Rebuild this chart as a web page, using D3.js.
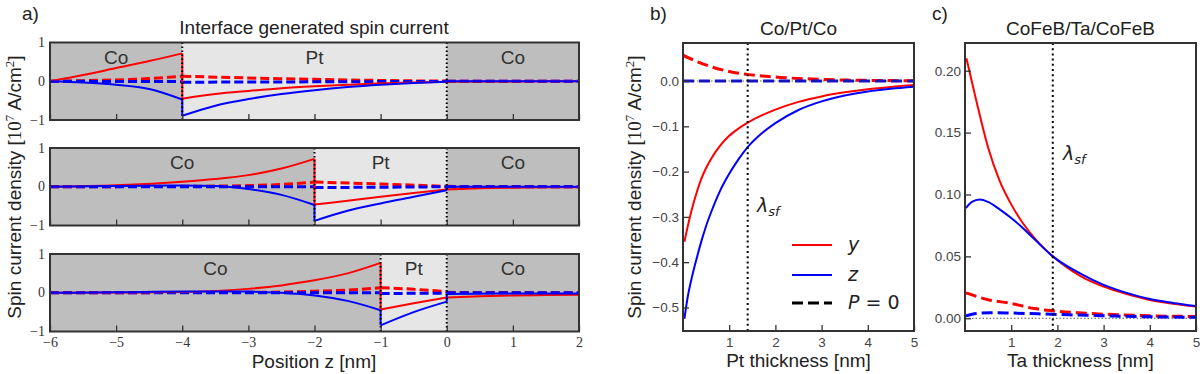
<!DOCTYPE html>
<html><head><meta charset="utf-8">
<script src="https://cdn.jsdelivr.net/npm/d3@7"></script>
<style>body{margin:0;background:#fff}svg{display:block}</style>
</head><body><svg id="c" width="1200" height="374"></svg>
<script>
// ---------------- DATA ----------------
// Panel a: layer boundaries & names for the three stacks
const a1Bounds = [-6, -4, 0, 2];
const a2Bounds = [-6, -2, 0, 2];
const a3Bounds = [-6, -1, 0, 2];
const aLayerNames = ["Co", "Pt", "Co"];
const aXTicks = [-6, -5, -4, -3, -2, -1, 0, 1, 2];
const aYTicks = [1, 0, -1];

// Each series: list of segments (one per layer) of [z, value]
const a1RedY = [
  [[-6,0],[-5.5,0.16],[-5,0.34],[-4.5,0.52],[-4,0.72]],
  [[-4,-0.45],[-3.5,-0.33],[-3,-0.25],[-2.5,-0.18],[-2,-0.13],[-1.5,-0.09],[-1,-0.05],[-0.5,-0.03],[0,-0.01]],
  [[0,-0.01],[1,-0.004],[2,0]]
];
const a1BlueZ = [
  [[-6,0],[-5.5,-0.035],[-5,-0.09],[-4.5,-0.2],[-4,-0.47]],
  [[-4,-0.89],[-3.5,-0.63],[-3,-0.46],[-2.5,-0.33],[-2,-0.23],[-1.5,-0.15],[-1,-0.09],[-0.5,-0.045],[0,-0.015]],
  [[0,0],[1,0],[2,0]]
];
const a1RedP0 = [
  [[-6,0],[-5.5,0.015],[-5,0.035],[-4.5,0.07],[-4,0.13]],
  [[-4,0.13],[-3,0.085],[-2,0.05],[-1,0.02],[0,0.003]],
  [[0,0.003],[2,0]]
];
const a1BlueP0 = [
  [[-6,0],[-4,-0.01]],
  [[-4,-0.025],[-2,-0.015],[0,-0.003]],
  [[0,0],[2,0]]
];

const a2RedY = [
  [[-6,0],[-5,0.04],[-4,0.13],[-3.5,0.2],[-3,0.3],[-2.5,0.47],[-2,0.72]],
  [[-2,-0.46],[-1.5,-0.36],[-1,-0.26],[-0.5,-0.16],[0,-0.07]],
  [[0,-0.07],[0.5,-0.04],[1,-0.025],[1.5,-0.015],[2,-0.01]]
];
const a2BlueZ = [
  [[-6,0],[-5,0.02],[-4,0.03],[-3.5,0.02],[-3,-0.06],[-2.5,-0.21],[-2,-0.47]],
  [[-2,-0.88],[-1.5,-0.62],[-1,-0.43],[-0.5,-0.26],[0,-0.09]],
  [[0,0],[1,0],[2,0]]
];
const a2RedP0 = [
  [[-6,0],[-4,0.01],[-3,0.03],[-2.5,0.06],[-2,0.12]],
  [[-2,0.12],[-1,0.07],[0,0.01]],
  [[0,0.01],[2,0]]
];
const a2BlueP0 = [
  [[-6,0],[-2,0]],
  [[-2,-0.02],[-1,-0.012],[0,0]],
  [[0,0],[2,0]]
];

const a3RedY = [
  [[-6,0],[-5,0.005],[-4,0.02],[-3,0.1],[-2.5,0.19],[-2,0.32],[-1.5,0.5],[-1,0.77]],
  [[-1,-0.43],[-0.5,-0.27],[0,-0.12]],
  [[0,-0.12],[0.5,-0.09],[1,-0.07],[1.5,-0.06],[2,-0.05]]
];
const a3BlueZ = [
  [[-6,0],[-5,0.01],[-4,0.03],[-3,0.03],[-2.5,0.0],[-2,-0.07],[-1.5,-0.21],[-1,-0.45]],
  [[-1,-0.84],[-0.5,-0.5],[0,-0.23]],
  [[0,-0.03],[1,-0.02],[2,-0.02]]
];
const a3RedP0 = [
  [[-6,0],[-3,0.01],[-2,0.04],[-1.5,0.07],[-1,0.13]],
  [[-1,0.13],[-0.5,0.09],[0,0.03]],
  [[0,0.01],[2,0]]
];
const a3BlueP0 = [
  [[-6,0],[-1,0]],
  [[-1,-0.02],[0,-0.01]],
  [[0,0],[2,0]]
];

// Panel b: Co/Pt/Co vs Pt thickness
const bXTicks = [1, 2, 3, 4, 5];
const bYTicks = [-0.5, -0.4, -0.3, -0.2, -0.1, 0.0];
const bLambda = 1.4;
const bRedY = [[0.03,-0.355],[0.1,-0.322],[0.2,-0.28],[0.3,-0.245],[0.4,-0.215],[0.5,-0.192],[0.6,-0.173],[0.8,-0.143],[1.0,-0.121],[1.2,-0.105],[1.4,-0.092],[1.7,-0.076],[2.0,-0.063],[2.5,-0.046],[3.0,-0.034],[3.5,-0.025],[4.0,-0.018],[4.5,-0.013],[5,-0.009]];
const bBlueZ = [[0.03,-0.525],[0.1,-0.478],[0.2,-0.43],[0.3,-0.39],[0.4,-0.353],[0.5,-0.32],[0.6,-0.292],[0.8,-0.243],[1.0,-0.205],[1.2,-0.173],[1.4,-0.146],[1.7,-0.116],[2.0,-0.093],[2.5,-0.064],[3.0,-0.045],[3.5,-0.032],[4.0,-0.023],[4.5,-0.017],[5,-0.0125]];
const bRedP0 = [[0.0,0.057],[0.3,0.043],[0.66,0.03],[1.0,0.021],[1.38,0.0147],[2.1,0.008],[2.8,0.0044],[3.5,0.0022],[4.25,0.0012],[5,0.0007]];
const bBlueP0 = [[0,0],[2.5,0],[5,0]];

// Panel c: CoFeB/Ta/CoFeB vs Ta thickness
const cXTicks = [1, 2, 3, 4, 5];
const cYTicks = [0.0, 0.05, 0.10, 0.15, 0.20];
const cLambda = 1.9;
const cRedY = [[0.03,0.21],[0.25,0.175],[0.5,0.138],[0.75,0.111],[1.0,0.092],[1.25,0.077],[1.5,0.065],[1.9,0.05],[2.5,0.034],[3.0,0.0255],[3.5,0.0195],[4.0,0.0148],[4.5,0.0118],[5.0,0.0094]];
const cBlueZ = [[0.02,0.089],[0.15,0.094],[0.32,0.096],[0.5,0.094],[0.75,0.088],[1.0,0.081],[1.25,0.073],[1.5,0.064],[1.9,0.05],[2.5,0.036],[3.0,0.027],[3.5,0.0205],[4.0,0.0155],[4.5,0.0124],[5.0,0.0099]];
const cRedP0 = [[0.02,0.0205],[0.5,0.015],[1.0,0.012],[1.5,0.0078],[1.9,0.006],[2.5,0.0043],[3.0,0.0033],[4.0,0.002],[5.0,0.0014]];
const cBlueP0 = [[0.02,0.0019],[0.25,0.0038],[0.55,0.0045],[1.0,0.0042],[1.9,0.0032],[3.0,0.002],[4.0,0.0012],[5.0,0.0008]];

// ---------------- DRAWING ----------------
const SANS = "Liberation Sans, Arial, sans-serif";
const SERIF = "Liberation Serif, DejaVu Serif, serif";
const RED = "#ff0000", BLUE = "#0000ff";
const svg = d3.select("#c");

function drawSegments(g, segs, x, y, color, dashed) {
  const line = d3.line().x(d => x(d[0])).y(d => y(d[1])).curve(d3.curveMonotoneX);
  const jl = d3.line().x(d => x(d[0])).y(d => y(d[1]));
  segs.forEach((s, i) => {
    g.append("path").attr("d", line(s)).attr("fill", "none")
      .attr("stroke", color).attr("stroke-width", dashed ? 3 : 2)
      .attr("stroke-dasharray", dashed ? "9,4" : null);
    if (!dashed && i < segs.length - 1) {
      g.append("path").attr("d", jl([s[s.length - 1], segs[i + 1][0]]))
        .attr("fill", "none").attr("stroke", color).attr("stroke-width", 2);
    }
  });
}

// ---- Panel a ----
const ax = d3.scaleLinear().domain([-6, 2]).range([50, 579]);
const subTops = [42.5, 148, 254];
const subH = 77.5;
const subplots = [
  {bounds: a1Bounds, series: [[a1RedY, RED, false], [a1BlueZ, BLUE, false], [a1RedP0, RED, true], [a1BlueP0, BLUE, true]]},
  {bounds: a2Bounds, series: [[a2RedY, RED, false], [a2BlueZ, BLUE, false], [a2RedP0, RED, true], [a2BlueP0, BLUE, true]]},
  {bounds: a3Bounds, series: [[a3RedY, RED, false], [a3BlueZ, BLUE, false], [a3RedP0, RED, true], [a3BlueP0, BLUE, true]]}
];

subplots.forEach((sp, i) => {
  const top = subTops[i];
  const ay = d3.scaleLinear().domain([-1, 1]).range([top + subH, top]);
  const g = svg.append("g");
  const cid = "clipA" + i;
  svg.append("clipPath").attr("id", cid).append("rect")
    .attr("x", ax(-6)).attr("y", top).attr("width", ax(2) - ax(-6)).attr("height", subH);
  const inner = g.append("g").attr("clip-path", `url(#${cid})`);
  for (let j = 0; j < sp.bounds.length - 1; j++) {
    inner.append("rect").attr("x", ax(sp.bounds[j])).attr("y", top)
      .attr("width", ax(sp.bounds[j + 1]) - ax(sp.bounds[j])).attr("height", subH)
      .attr("fill", aLayerNames[j] === "Co" ? "#bebebe" : "#e6e6e6");
  }
  for (let j = 0; j < sp.bounds.length - 1; j++) {
    g.append("text").attr("x", ax((sp.bounds[j] + sp.bounds[j + 1]) / 2)).attr("y", ay(0.62))
      .attr("text-anchor", "middle").attr("dominant-baseline", "central")
      .attr("font-family", SANS).attr("font-size", 19).attr("fill", "#333").text(aLayerNames[j]);
  }
  sp.series.filter(s => s[2]).forEach(s => drawSegments(inner, s[0], ax, ay, s[1], true));
  sp.series.filter(s => !s[2]).forEach(s => drawSegments(inner, s[0], ax, ay, s[1], false));
  [sp.bounds[1], sp.bounds[2]].forEach(b => {
    g.append("line").attr("x1", ax(b)).attr("x2", ax(b)).attr("y1", top).attr("y2", top + subH)
      .attr("stroke", "#000").attr("stroke-width", 2).attr("stroke-dasharray", "1.5,2.5");
  });
  const axis = d3.axisBottom(ax).tickValues(aXTicks).tickSize(-6).tickPadding(6)
    .tickFormat(i === 2 ? d3.format("d") : "");
  const ag = g.append("g").attr("transform", `translate(0,${top + subH})`).call(axis);
  ag.select(".domain").remove();
  ag.selectAll("line").attr("stroke", "#333").attr("stroke-width", 1.3);
  ag.selectAll("text").attr("font-family", SERIF).attr("font-size", 14).attr("fill", "#333");
  aYTicks.forEach(v => {
    g.append("text").attr("x", 45).attr("y", ay(v)).attr("text-anchor", "end")
      .attr("dominant-baseline", "central").attr("font-family", SERIF).attr("font-size", 14)
      .attr("fill", "#333").text(d3.format("d")(v));
  });
  g.append("rect").attr("x", ax(-6)).attr("y", top).attr("width", ax(2) - ax(-6)).attr("height", subH)
    .attr("fill", "none").attr("stroke", "#333").attr("stroke-width", 2);
});

function yLabel(x, y) {
  const t = svg.append("text").attr("transform", `translate(${x},${y}) rotate(-90)`)
    .attr("text-anchor", "middle").attr("font-family", SANS).attr("font-size", 19).attr("fill", "#222");
  t.append("tspan").text("Spin current density [");
  t.append("tspan").attr("font-family", SERIF).text("10");
  t.append("tspan").attr("font-family", SERIF).attr("font-size", 13).attr("dy", -7).text("7");
  t.append("tspan").attr("dy", 7).text(" A/cm");
  t.append("tspan").attr("font-family", SERIF).attr("font-size", 13).attr("dy", -7).text("2");
  t.append("tspan").attr("dy", 7).text("]");
}
yLabel(21, 187);
svg.append("text").attr("x", 314).attr("y", 368).attr("text-anchor", "middle")
  .attr("font-family", SANS).attr("font-size", 19).attr("fill", "#222").text("Position z [nm]");
svg.append("text").attr("x", 314).attr("y", 34).attr("text-anchor", "middle")
  .attr("font-family", SANS).attr("font-size", 19).attr("fill", "#222").text("Interface generated spin current");
svg.append("text").attr("x", 22).attr("y", 20).attr("font-family", SANS).attr("font-size", 19)
  .attr("fill", "#222").text("a)");

// ---- Panels b & c ----
function lambdaLabel(x, y) {
  const t = svg.append("text").attr("x", x).attr("y", y).attr("font-family", "DejaVu Sans, sans-serif")
    .attr("font-style", "italic").attr("fill", "#222").attr("font-size", 19);
  t.append("tspan").text("λ");
  t.append("tspan").attr("font-size", 13).attr("dy", 4).text("sf");
}

function panel(opts) {
  const x = d3.scaleLinear().domain([0, 5]).range(opts.xr);
  const y = d3.scaleLinear().domain(opts.yd).range([331, 43]);
  const g = svg.append("g");
  const cid = "clip" + opts.id;
  svg.append("clipPath").attr("id", cid).append("rect")
    .attr("x", opts.xr[0]).attr("y", 43).attr("width", opts.xr[1] - opts.xr[0]).attr("height", 288);
  const inner = g.append("g").attr("clip-path", `url(#${cid})`);
  inner.append("line").attr("x1", opts.xr[0]).attr("x2", opts.xr[1]).attr("y1", y(0)).attr("y2", y(0))
    .attr("stroke", "#555").attr("stroke-width", 1).attr("stroke-dasharray", "1.5,2");
  const line = d3.line().x(d => x(d[0])).y(d => y(d[1])).curve(d3.curveMonotoneX);
  [[opts.redP0, RED], [opts.blueP0, opts.p0Blue || BLUE]].forEach(([d, c]) => {
    inner.append("path").attr("d", line(d)).attr("fill", "none").attr("stroke", c)
      .attr("stroke-width", 3).attr("stroke-dasharray", "11,5");
  });
  [[opts.redY, RED], [opts.blueZ, BLUE]].forEach(([d, c]) => {
    inner.append("path").attr("d", line(d)).attr("fill", "none").attr("stroke", c).attr("stroke-width", 2);
  });
  inner.append("line").attr("x1", x(opts.lambda)).attr("x2", x(opts.lambda)).attr("y1", 43).attr("y2", 331)
    .attr("stroke", "#000").attr("stroke-width", 2).attr("stroke-dasharray", "2,3.2");
  const xa = g.append("g").attr("transform", "translate(0,331)")
    .call(d3.axisBottom(x).tickValues(opts.xTicks).tickSize(-6).tickPadding(6).tickFormat(d3.format("d")));
  const ya = g.append("g").attr("transform", `translate(${opts.xr[0]},0)`)
    .call(d3.axisLeft(y).tickValues(opts.yTicks).tickSize(-6).tickPadding(4).tickFormat(d3.format(opts.yFmt)));
  [xa, ya].forEach(a => {
    a.select(".domain").remove();
    a.selectAll("line").attr("stroke", "#333").attr("stroke-width", 1.3);
    a.selectAll("text").attr("font-family", SANS).attr("font-size", 13.5).attr("fill", "#444");
  });
  g.append("rect").attr("x", opts.xr[0]).attr("y", 43).attr("width", opts.xr[1] - opts.xr[0]).attr("height", 288)
    .attr("fill", "none").attr("stroke", "#333").attr("stroke-width", 2);
  const cx = (opts.xr[0] + opts.xr[1]) / 2;
  svg.append("text").attr("x", cx).attr("y", 35).attr("text-anchor", "middle")
    .attr("font-family", SANS).attr("font-size", 19).attr("fill", "#222").text(opts.title);
  svg.append("text").attr("x", cx).attr("y", 367).attr("text-anchor", "middle")
    .attr("font-family", SANS).attr("font-size", 19).attr("fill", "#222").text(opts.xlabel);
  svg.append("text").attr("x", opts.tagX).attr("y", 20).attr("font-family", SANS).attr("font-size", 19)
    .attr("fill", "#222").text(opts.tag);
  lambdaLabel(x(opts.lamPos[0]), y(opts.lamPos[1]));
  return {x, y};
}

panel({id: "b", xr: [683, 914], yd: [-0.552, 0.084], xTicks: bXTicks, yTicks: bYTicks, yFmt: ".1f",
  redY: bRedY, blueZ: bBlueZ, redP0: bRedP0, blueP0: bBlueP0, lambda: bLambda, p0Blue: "#1515c0",
  title: "Co/Pt/Co", xlabel: "Pt thickness [nm]", tag: "b)", tagX: 650, lamPos: [1.6, -0.29]});
yLabel(641, 187);

panel({id: "c", xr: [965, 1196], yd: [-0.0103, 0.2224], xTicks: cXTicks, yTicks: cYTicks, yFmt: ".2f",
  redY: cRedY, blueZ: cBlueZ, redP0: cRedP0, blueP0: cBlueP0, lambda: cLambda,
  title: "CoFeB/Ta/CoFeB", xlabel: "Ta thickness [nm]", tag: "c)", tagX: 932, lamPos: [2.12, 0.128]});

// Legend (panel b)
const legendItems = [
  {label: "y", color: RED, dash: null, w: 2},
  {label: "z", color: BLUE, dash: null, w: 2},
  {label: "P0", color: "#000", dash: "11,5", w: 3}
];
const legendY = [245, 275, 303];
legendItems.forEach((it, i) => {
  svg.append("line").attr("x1", 792).attr("x2", 832).attr("y1", legendY[i]).attr("y2", legendY[i])
    .attr("stroke", it.color).attr("stroke-width", it.w).attr("stroke-dasharray", it.dash);
  const t = svg.append("text").attr("x", 848).attr("y", legendY[i] + 6)
    .attr("font-family", "DejaVu Sans, sans-serif").attr("font-size", 19).attr("fill", "#222");
  if (it.label === "P0") {
    t.append("tspan").attr("font-style", "italic").text("P");
    t.append("tspan").text(" = 0");
  } else {
    t.append("tspan").attr("font-style", "italic").text(it.label);
  }
});
</script></body></html>
